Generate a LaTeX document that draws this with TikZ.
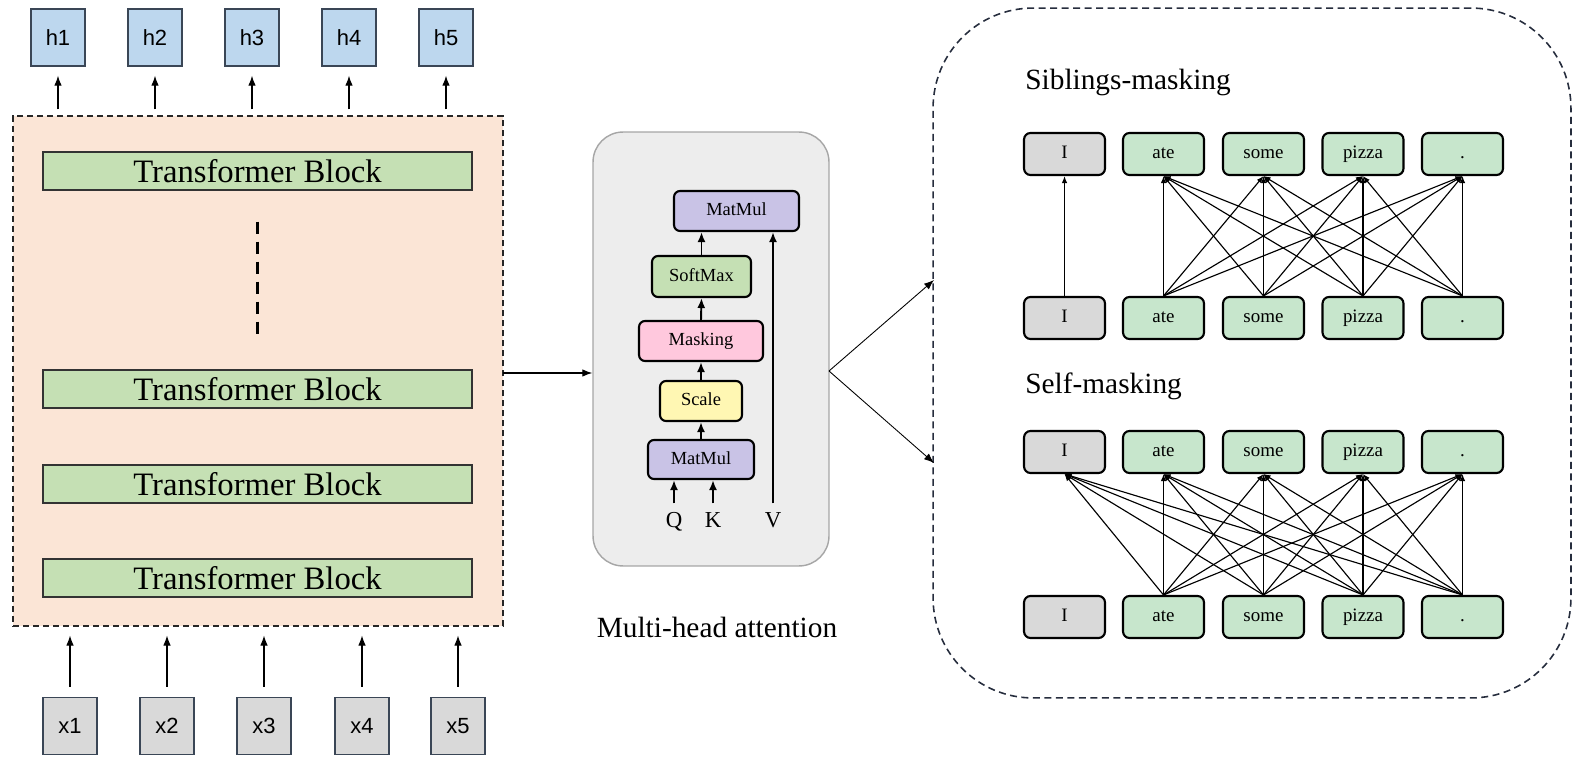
\documentclass[tikz,border=0pt]{standalone}
\usepackage{fontspec}
\setmainfont{Liberation Serif}
\newfontfamily\arialf{Liberation Sans}
\usetikzlibrary{arrows.meta}
\definecolor{hblue}{HTML}{BDD7EE}
\definecolor{xgray}{HTML}{D9D9D9}
\definecolor{peach}{HTML}{FBE5D6}
\definecolor{tgreen}{HTML}{C5E0B4}
\definecolor{boxline}{HTML}{3A4656}
\definecolor{attbg}{HTML}{EDEDED}
\definecolor{attline}{HTML}{A6A6A6}
\definecolor{lav}{HTML}{C9C3E6}
\definecolor{pinkm}{HTML}{FFC8DD}
\definecolor{yellowm}{HTML}{FFF7B3}
\definecolor{mint}{HTML}{C7E6CC}
\definecolor{navy}{HTML}{262D3D}
\tikzset{
  sqbox/.style={draw=boxline, line width=0.8pt, minimum width=1.08cm, minimum height=1.14cm, inner sep=0pt, font=\arialf\fontsize{12.5}{14}\selectfont},
  hbox/.style={sqbox, fill=hblue},
  xbox/.style={sqbox, fill=xgray},
  tblock/.style={draw=black!80, line width=0.8pt, fill=tgreen, minimum width=8.58cm, minimum height=0.76cm, inner sep=0pt, font=\fontsize{18.6}{20}\selectfont},
  opbox/.style={draw=black, line width=1.2pt, rounded corners=0.12cm, minimum height=0.8cm, inner sep=0pt, text height=1.6ex, text depth=0.4ex, font=\fontsize{10.5}{12}\selectfont},
  tok/.style={draw=black, line width=1.2pt, rounded corners=0.13cm, minimum width=1.62cm, minimum height=0.84cm, inner sep=0pt, text height=1.6ex, text depth=0.45ex, font=\fontsize{10.8}{12}\selectfont},
  gtok/.style={tok, fill=mint},
  itok/.style={tok, fill=xgray},
  arr/.style={-{Latex[length=0.2cm, width=0.15cm]}, line width=0.6pt},
  barr/.style={-{Latex[length=0.2cm, width=0.16cm]}, line width=1.1pt},
  tarr/.style={-{Latex[length=0.14cm, width=0.11cm]}, line width=0.65pt},
  title/.style={font=\fontsize{16.7}{19}\selectfont, inner sep=0pt},
  qkv/.style={font=\fontsize{13}{14}\selectfont, inner sep=1pt, anchor=base}
}
\begin{document}
\begin{tikzpicture}[x=0.02cm, y=-0.02cm]
\useasboundingbox (0,0) rectangle (1581,766);

% ---------- left part ----------
\node (frame) [draw=black!85, dash pattern=on 0.12cm off 0.08cm, line width=0.7pt, fill=peach, minimum width=9.8cm, minimum height=10.2cm, inner sep=0pt] at (258,371) {};

\foreach \i/\x in {1/58, 2/155, 3/252, 4/349, 5/446} {
  \node (h\i) [hbox] at (\x,37.5) {h\i};
}
\foreach \i/\x in {1/70, 2/167, 3/264, 4/362, 5/458} {
  \node (x\i) [xbox] at (\x,726) {x\i};
}
\foreach \i in {1,...,5} {
  \draw[arr, shorten <=0.12cm, shorten >=0.18cm] (h\i |- frame.north) -- (h\i.south);
  \draw[arr, shorten <=0.2cm, shorten >=0.18cm] (x\i.north) -- (x\i |- frame.south);
}

\node (tb1) [tblock] at (257.5,171) {Transformer Block};
\node (tb2) [tblock] at (257.5,389) {Transformer Block};
\node (tb3) [tblock] at (257.5,484) {Transformer Block};
\node (tb4) [tblock] at (257.5,578) {Transformer Block};
\draw[line width=1.2pt, dash pattern=on 0.24cm off 0.16cm, shorten <=0.62cm, shorten >=0.6cm] (tb1.south) -- (tb2.north);

% ---------- attention ----------
\node (att) [draw=attline, line width=0.8pt, fill=attbg, rounded corners=0.6cm, minimum width=4.72cm, minimum height=8.68cm, inner sep=0pt] at (711,349) {};
\coordinate (fa) at (503,373);
\draw[arr] (fa) -- (fa -| att.west);

\node (mm2) [opbox, fill=lav, minimum width=2.5cm] at (736.5,211) {MatMul};
\node (soft) [opbox, fill=tgreen, minimum width=1.98cm, minimum height=0.82cm] at (701.5,276.5) {SoftMax};
\node (mask) [opbox, fill=pinkm, minimum width=2.48cm] at (701,341) {Masking};
\node (scl) [opbox, fill=yellowm, minimum width=1.64cm] at (701,401) {Scale};
\node (mm1) [opbox, fill=lav, minimum width=2.12cm, minimum height=0.78cm] at (701,459.5) {MatMul};

\draw[barr] (mm1.north) -- (scl.south);
\draw[barr] (scl.north) -- (mask.south);
\draw[barr] (mask.north) -- (soft.south);
\draw[barr] (soft.north) -- (soft.north |- mm2.south);

\node (Q) [qkv] at (674,527) {Q};
\node (K) [qkv] at (713,527) {K};
\node (V) [qkv] at (773,527) {V};
\draw[barr, shorten <=0.13cm] (Q.north) -- (Q.north |- mm1.south);
\draw[barr, shorten <=0.13cm] (K.north) -- (K.north |- mm1.south);
\draw[barr, shorten <=0.13cm] (V.north) -- (V.north |- mm2.south);

\node (mha) [title] at (717,627) {Multi-head attention};

% ---------- right part ----------
\node (rb) [draw=navy, dash pattern=on 0.14cm off 0.09cm, line width=0.9pt, rounded corners=2cm, minimum width=12.76cm, minimum height=13.8cm, inner sep=0pt] at (1252,353) {};
\coordinate (split) at (829,371);
\coordinate (e1) at (934,280);
\coordinate (e2) at (934,463);
\draw[arr, line width=0.5pt] (split) -- (e1);
\draw[arr, line width=0.5pt] (split) -- (e2);

\node (t1) [title, anchor=west] at (1025,82) {Siblings-masking};
\node (t2) [title, anchor=west] at (1025,386) {Self-masking};

% siblings-masking rows
\node (sa0) [itok] at (1064.5,154) {I};
\node (sa1) [gtok] at (1163.5,154) {ate};
\node (sa2) [gtok] at (1263.5,154) {some};
\node (sa3) [gtok] at (1363,154) {pizza};
\node (sa4) [gtok] at (1462.5,154) {.};
\node (sb0) [itok] at (1064.5,318) {I};
\node (sb1) [gtok] at (1163.5,318) {ate};
\node (sb2) [gtok] at (1263.5,318) {some};
\node (sb3) [gtok] at (1363,318) {pizza};
\node (sb4) [gtok] at (1462.5,318) {.};
\draw[tarr] (sb0.north) -- (sa0.south);
\foreach \i in {1,...,4} {
  \foreach \j in {1,...,4} {
    \draw[tarr] (sb\i.north) -- (sa\j.south);
  }
}

% self-masking rows
\node (ma0) [itok] at (1064.5,452) {I};
\node (ma1) [gtok] at (1163.5,452) {ate};
\node (ma2) [gtok] at (1263.5,452) {some};
\node (ma3) [gtok] at (1363,452) {pizza};
\node (ma4) [gtok] at (1462.5,452) {.};
\node (mb0) [itok] at (1064.5,617) {I};
\node (mb1) [gtok] at (1163.5,617) {ate};
\node (mb2) [gtok] at (1263.5,617) {some};
\node (mb3) [gtok] at (1363,617) {pizza};
\node (mb4) [gtok] at (1462.5,617) {.};
\foreach \i in {1,...,4} {
  \foreach \j in {0,...,4} {
    \draw[tarr] (mb\i.north) -- (ma\j.south);
  }
}
\end{tikzpicture}
\end{document}
